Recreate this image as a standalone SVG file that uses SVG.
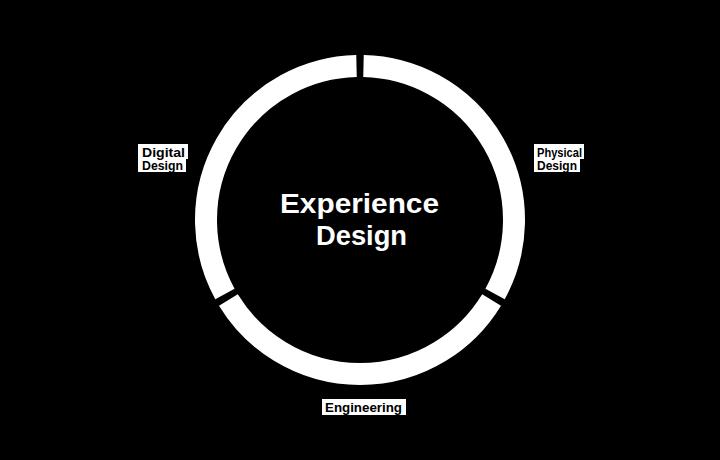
<svg xmlns="http://www.w3.org/2000/svg" width="720" height="460" viewBox="0 0 720 460">
  <style>
    .seg { fill: none; stroke: #ffffff; stroke-width: 22; stroke-linecap: butt; }
    .tag { fill: #ffffff; }
    .lbl { font-family: "Liberation Sans", Arial, sans-serif; font-weight: bold; font-size: 12.5px; fill: #000000; }
    .title { font-family: "Liberation Sans", Arial, sans-serif; font-weight: bold; font-size: 28px; fill: #ffffff; text-anchor: middle; }
  </style>
  <rect x="0" y="0" width="720" height="460" fill="#000000"/>
  <g id="ring">
    <path id="seg-physical" class="seg" d="M 363.49 66.04 A 154 154 0 0 1 495.08 293.95"/>
    <path id="seg-engineering" class="seg" d="M 491.59 300.01 A 154 154 0 0 1 228.41 300.01"/>
    <path id="seg-digital" class="seg" d="M 224.92 293.95 A 154 154 0 0 1 356.51 66.04"/>
  </g>
  <g id="connectors"></g>
  <g id="center">
    <text class="title" x="359.5" y="213" textLength="159" lengthAdjust="spacingAndGlyphs">Experience</text>
    <text class="title" x="361.5" y="245" textLength="91" lengthAdjust="spacingAndGlyphs">Design</text>
  </g>
  <g id="digital-design">
    <rect class="tag" x="138" y="144" width="50" height="15"/>
    <rect class="tag" x="138" y="158.5" width="48" height="13.5"/>
    <text class="lbl" x="142" y="156.5" textLength="43" lengthAdjust="spacingAndGlyphs">Digital</text>
    <text class="lbl" x="142" y="170" textLength="41" lengthAdjust="spacingAndGlyphs">Design</text>
  </g>
  <g id="physical-design">
    <rect class="tag" x="534" y="144" width="50" height="15"/>
    <rect class="tag" x="534" y="158.5" width="46" height="13.5"/>
    <text class="lbl" x="537" y="156.5" textLength="45" lengthAdjust="spacingAndGlyphs">Physical</text>
    <text class="lbl" x="537" y="170" textLength="40" lengthAdjust="spacingAndGlyphs">Design</text>
  </g>
  <g id="engineering">
    <rect class="tag" x="322" y="399" width="84" height="16"/>
    <text class="lbl" x="325" y="411.5" textLength="77" lengthAdjust="spacingAndGlyphs">Engineering</text>
  </g>
</svg>
